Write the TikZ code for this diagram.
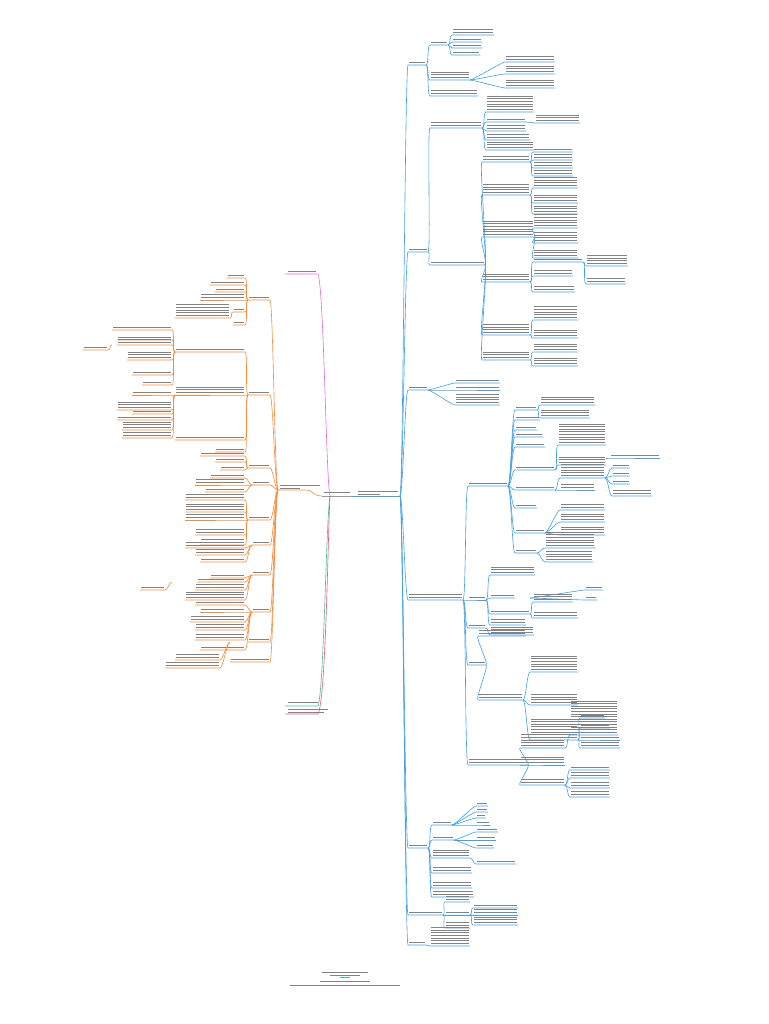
\documentclass[tikz,border=0pt]{standalone}
\definecolor{mapblue}{RGB}{70,160,230}
\definecolor{maporange}{RGB}{245,140,60}
\definecolor{mappink}{RGB}{220,110,230}
\definecolor{mapgreen}{RGB}{80,190,150}
\definecolor{mapred}{RGB}{235,90,110}
\definecolor{txtgray}{RGB}{130,130,130}
\tikzset{branch/.style={line width=0.35pt},txt/.style={fill=txtgray}}
% right-growing children: parent x, parent y, child x, colour, list y/w/n
\newcommand\rkids[5]{%
  \foreach \yy/\ww/\nn in {#5}{%
    \draw[branch,#4] (#1,#2) .. controls (#1+3,#2) and (#3-3,\yy) .. (#3,\yy) -- ++(\ww,0);
    \foreach \k in {1,...,\nn} \fill[txt] (#3+1,\yy-0.6-2.6*\k) rectangle ++(\ww-2,0.7);
  }}
% left-growing children
\newcommand\lkids[5]{%
  \foreach \yy/\ww/\nn in {#5}{%
    \draw[branch,#4] (#1,#2) .. controls (#1-3,#2) and (#3+3,\yy) .. (#3,\yy) -- ++(-\ww,0);
    \foreach \k in {1,...,\nn} \fill[txt] (#3-1,\yy-0.6-2.6*\k) rectangle ++(-\ww+2,0.7);
  }}
\begin{document}
\begin{tikzpicture}[x=0.02cm,y=-0.02cm]
  \useasboundingbox (0,0) rectangle (768,1024);
  % centre
  \draw[branch,black!40] (322,496) -- (352,496);
  \fill[txt] (324,492) rectangle (350,492.8);
  % right root
  \draw[branch,mapblue] (352,496) -- (400,496);
  \fill[txt] (358,491) rectangle (398,491.8);
  \fill[txt] (358,494) rectangle (380,494.8);
  \rkids{400}{496}{408}{mapblue}{65/18/1,252/20/1,390/20/1,600/55/2,848/20/1,915/35/1,945/18/1}
  % group 65
  \rkids{426}{65}{430}{mapblue}{45/18/1,80/40/3,96/48/2}
  \rkids{448}{45}{452}{mapblue}{35/42/2,42/30/1,48/30/1,55/28/1}
  \rkids{470}{80}{505}{mapblue}{62/50/2,74/50/3,88/50/3}
  % group 252
  \rkids{428}{252}{430}{mapblue}{128/52/2,265/55/1}
  \rkids{482}{128}{486}{mapblue}{112/48/6,122/40/1,131/40/2,140/44/2,150/48/3}
  \rkids{526}{122}{535}{mapblue}{123/45/3}
  \rkids{485}{265}{482}{mapblue}{162/48/2,195/48/4,237/52/6,282/48/3,335/48/4,360/48/3}
  \rkids{530}{162}{533}{mapblue}{152/40/1,160/40/2,168/40/2,176/40/2}
  \rkids{530}{195}{533}{mapblue}{188/45/4,203/45/3,214/45/3}
  \rkids{534}{237}{533}{mapblue}{228/45/5,243/45/4,258/45/3}
  \rkids{530}{282}{533}{mapblue}{262/50/1,276/40/2,292/42/2}
  \rkids{583}{262}{586}{mapblue}{266/42/4,284/40/2}
  \rkids{530}{335}{533}{mapblue}{320/45/5,338/45/3}
  \rkids{530}{360}{533}{mapblue}{352/45/3,366/45/3}
  % group 390
  \rkids{428}{390}{455}{mapblue}{383/45/1,390/45/1,405/45/4}
  % group 600
  \rkids{463}{600}{468}{mapblue}{486/40/1,600/18/1,628/18/1,665/18/1,765/60/2}
  \rkids{508}{486}{515}{mapblue}{410/22/1,420/25/1,430/22/1,437/28/1,447/30/1,470/40/1,490/40/1,508/22/1,533/30/1,553/22/1}
  \rkids{537}{410}{540}{mapblue}{405/55/3,418/50/3}
  \rkids{555}{470}{558}{mapblue}{445/48/8,465/48/3}
  \rkids{606}{458}{610}{mapblue}{458/50/1}
  \rkids{555}{490}{560}{mapblue}{478/45/5,490/35/2}
  \rkids{605}{478}{612}{mapblue}{468/18/1,476/18/1,484/18/1,496/40/2}
  \rkids{545}{533}{560}{mapblue}{510/45/2,522/45/3,535/45/3}
  \rkids{537}{553}{545}{mapblue}{548/50/6,562/48/4}
  \rkids{486}{600}{490}{mapblue}{575/45/3,598/25/1,614/40/1,625/36/2}
  \rkids{530}{598}{585}{mapblue}{590/18/1,600/12/1}
  \rkids{530}{614}{533}{mapblue}{602/40/3,618/45/2}
  \rkids{486}{628}{490}{mapblue}{635/44/3}
  \rkids{486}{665}{478}{mapblue}{636/48/2,700/45/2}
  \rkids{523}{700}{530}{mapblue}{672/48/6,705/48/4,740/48/8}
  \rkids{578}{740}{580}{mapblue}{718/25/1,728/30/1,740/40/1,748/40/2}
  \rkids{528}{765}{520}{mapblue}{748/45/5,765/45/3,785/45/2}
  \rkids{565}{748}{570}{mapblue}{735/48/13}
  \rkids{565}{785}{570}{mapblue}{770/40/1,778/40/2,788/40/2,797/40/2}
  % group 848
  \rkids{428}{848}{432}{mapblue}{825/20/1,840/22/1,858/38/3,873/40/2,888/40/2,897/42/2}
  \rkids{452}{825}{476}{mapblue}{806/12/1,812/12/1,818/10/1,825/14/1}
  \rkids{454}{840}{476}{mapblue}{832/22/1,840/20/1,848/18/1}
  \rkids{470}{858}{476}{mapblue}{864/40/1}
  % group 915
  \rkids{443}{915}{445}{mapblue}{902/25/3,915/25/1,928/25/2}
  \rkids{470}{915}{473}{mapblue}{908/45/1,915/45/2,925/45/3}
  % group 945
  \rkids{426}{945}{430}{mapblue}{946/40/7}
  % left root
  \draw[branch,maporange] (322,496) .. controls (312,496) and (314,490) .. (305,490) -- (278,490);
  \fill[txt] (280,485) rectangle (320,485.8);
  \fill[txt] (280,488) rectangle (300,488.8);
  \lkids{278}{490}{270}{maporange}{300/22/1,395/22/1,468/22/1,485/18/1,520/22/1,545/18/1,575/18/1,612/18/1,642/22/1,662/40/1}
  \lkids{248}{300}{245}{maporange}{278/18/1,285/35/1,292/30/1,300/45/2,312/12/1,325/12/1}
  \lkids{233}{312}{230}{maporange}{318/55/5}
  \lkids{248}{395}{245}{maporange}{352/70/1,395/70/3,440/70/1,452/30/1}
  \lkids{175}{352}{172}{maporange}{330/60/1,340/55/1,345/55/2,360/45/3,375/40/1,385/30/1}
  \lkids{112}{345}{108}{maporange}{350/25/1}
  \lkids{175}{395}{172}{maporange}{395/40/1,410/55/3,414/40/1,420/55/1,430/50/3,438/50/2}
  \lkids{248}{468}{245}{maporange}{456/45/1,462/30/1,470/25/1}
  \lkids{252}{485}{245}{maporange}{478/35/1,485/50/2,492/40/1}
  \lkids{248}{520}{245}{maporange}{500/60/2,512/60/3,520/60/2,535/50/2,545/45/2}
  \lkids{252}{545}{245}{maporange}{548/60/2,555/50/2,562/45/1}
  \lkids{252}{575}{245}{maporange}{578/35/1,582/48/1,590/50/2,600/60/3}
  \lkids{252}{612}{245}{maporange}{605/50/1,612/45/1,622/55/2,630/50/2,640/50/2,650/45/1}
  \lkids{230}{642}{220}{maporange}{660/45/2,668/55/2}
  \lkids{172}{582}{165}{maporange}{590/25/1}
  % pink, green, red
  \draw[branch,mappink] (330,496) .. controls (326,480) and (324,290) .. (318,274) -- (285,274);
  \fill[txt] (288,271) rectangle (316,271.8);
  \draw[branch,mapgreen] (330,496) .. controls (326,520) and (324,690) .. (318,706) -- (285,706);
  \fill[txt] (288,702) rectangle (318,702.8);
  \draw[branch,mapred] (330,496) .. controls (328,530) and (326,700) .. (318,714) -- (285,714);
  \fill[txt] (288,709) rectangle (328,709.8);
  \fill[txt] (288,712) rectangle (324,712.8);
  % footer
  \fill[txt] (322,972) rectangle (368,972.8);
  \fill[txt] (330,975) rectangle (360,975.8);
  \fill[mapgreen] (340,977) rectangle (350,977.8);
  \fill[txt] (320,981) rectangle (370,981.8);
  \fill[txt] (290,985) rectangle (400,985.8);
\end{tikzpicture}
\end{document}
